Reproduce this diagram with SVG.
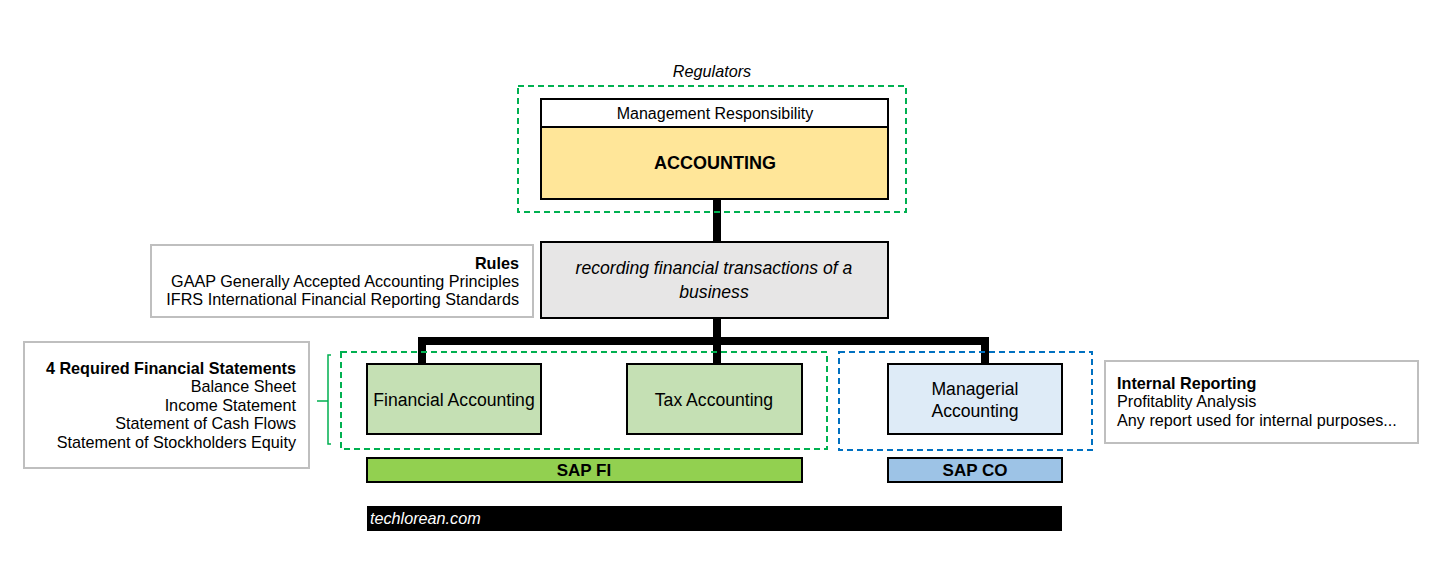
<svg xmlns="http://www.w3.org/2000/svg" width="1439" height="561" viewBox="0 0 1439 561">
<style>
text{font-family:"Liberation Sans",Arial,sans-serif;fill:#000}
.box{stroke:#000;stroke-width:2}
.note{fill:#fff;stroke:#bfbfbf;stroke-width:2}
.dg{fill:none;stroke:#00b050;stroke-width:2;stroke-dasharray:6 4}
.db{fill:none;stroke:#0070c0;stroke-width:2;stroke-dasharray:6 4}
.conn{fill:none;stroke:#000;stroke-width:8}
.t15{font-size:16.2px}
.t16{font-size:17.6px}
.sap{font-size:17px;font-weight:bold}
.b{font-weight:bold}
.i{font-style:italic}
.r{text-anchor:end}
.c{text-anchor:middle}
</style>
<rect width="1439" height="561" fill="#fff"/>

<g id="connectors">
<line class="conn" x1="717" y1="199" x2="717" y2="242"/>
<polyline class="conn" points="422,364 422,341 985,341 985,364"/>
<line class="conn" x1="717" y1="318" x2="717" y2="364"/>
</g>

<g id="regulators">
<rect class="dg" x="518" y="86" width="388" height="126"/>
<text class="t15 i c" x="712" y="77">Regulators</text>
</g>

<g id="accounting">
<rect class="box" x="541" y="99" width="347" height="28" fill="#fff"/>
<rect class="box" x="541" y="127" width="347" height="72" fill="#ffe699"/>
<text class="c" font-size="16px" x="715" y="119">Management Responsibility</text>
<text class="b c" font-size="18px" x="715" y="169">ACCOUNTING</text>
</g>

<g id="recording">
<rect class="box" x="541" y="242" width="347" height="76" fill="#e7e6e6"/>
<text class="t16 i c" x="714" y="274">recording financial transactions of a</text>
<text class="t16 i c" x="714" y="298">business</text>
</g>

<g id="rules">
<rect class="note" x="151" y="245" width="382" height="72"/>
<text class="t15 b r" x="519" y="269">Rules</text>
<text class="t15 r" x="519" y="287">GAAP Generally Accepted Accounting Principles</text>
<text class="t15 r" x="519" y="305">IFRS International Financial Reporting Standards</text>
</g>

<g id="statements">
<rect class="note" x="24" y="342" width="285" height="126"/>
<text class="t15 b r" x="296" y="374">4 Required Financial Statements</text>
<text class="t15 r" x="296" y="392">Balance Sheet</text>
<text class="t15 r" x="296" y="411">Income Statement</text>
<text class="t15 r" x="296" y="429">Statement of Cash Flows</text>
<text class="t15 r" x="296" y="448">Statement of Stockholders Equity</text>
<path d="M331,355 H328 V444 H331 M317,401 H328" fill="none" stroke="#00b050" stroke-width="1.5"/>
</g>

<g id="fi-group">
<rect class="dg" x="341" y="352" width="486" height="97"/>
</g>

<g id="financial-accounting">
<rect class="box" x="367" y="364" width="174" height="70" fill="#c5e0b4"/>
<text class="t16 c" x="454" y="406">Financial Accounting</text>
</g>

<g id="tax-accounting">
<rect class="box" x="627" y="364" width="175" height="70" fill="#c5e0b4"/>
<text class="t16 c" x="714" y="406">Tax Accounting</text>
</g>

<g id="co-group">
<rect class="db" x="839" y="352" width="253" height="98"/>
</g>

<g id="managerial-accounting">
<rect class="box" x="888" y="364" width="174" height="70" fill="#deebf7"/>
<text class="t16 c" x="975" y="395">Managerial</text>
<text class="t16 c" x="975" y="417">Accounting</text>
</g>

<g id="internal-reporting">
<rect class="note" x="1105" y="361" width="313" height="82"/>
<text class="t15 b" x="1117" y="389">Internal Reporting</text>
<text class="t15" x="1117" y="407">Profitablity Analysis</text>
<text class="t15" x="1117" y="426">Any report used for internal purposes...</text>
</g>

<g id="sap-fi">
<rect class="box" x="367" y="458" width="435" height="24" fill="#92d050"/>
<text class="sap c" x="584" y="476">SAP FI</text>
</g>

<g id="sap-co">
<rect class="box" x="888" y="458" width="174" height="24" fill="#9dc3e6"/>
<text class="sap c" x="975" y="476">SAP CO</text>
</g>

<g id="footer">
<rect x="367" y="506" width="695" height="25" fill="#000"/>
<text class="t15 i" x="370" y="524" style="fill:#fff">techlorean.com</text>
</g>
</svg>
